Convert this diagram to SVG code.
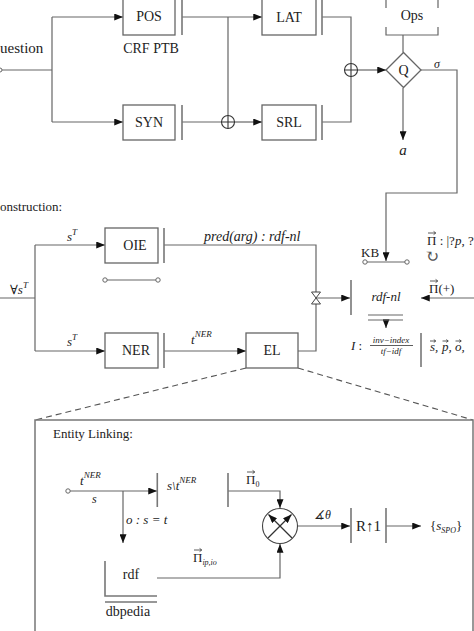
<svg xmlns="http://www.w3.org/2000/svg" xmlns:xlink="http://www.w3.org/1999/xlink" width="474" height="631" viewBox="0 0 474 631">
<style>
text{font-family:"Liberation Serif","DejaVu Serif",serif;fill:#222;font-size:14px}
.i{font-style:italic}
.m{text-anchor:middle}
.ln{fill:none;stroke:#666;stroke-width:1.2}
.bx{fill:#fff;stroke:#666;stroke-width:1.3}
.bar{stroke:#777;stroke-width:1.6;fill:none}
.a{marker-end:url(#ar)}
.dash{fill:none;stroke:#555;stroke-width:1.1;stroke-dasharray:6 4}
.sm{fill:#fff;stroke:#666;stroke-width:1}
.sup{font-size:9px}
.vec{fill:none;stroke:#333;stroke-width:0.8}
</style>
<defs>
<marker id="ar" viewBox="0 0 10 8" refX="10" refY="4" markerWidth="9" markerHeight="7" markerUnits="userSpaceOnUse" orient="auto"><path d="M0,0L10,4L0,8z" fill="#111"/></marker>
<path id="vec" class="vec" d="M0,0H7.5M5.6,-1.6L7.8,0L5.6,1.6"/>
<path id="vecs" class="vec" d="M0,0H5.5M3.8,-1.4L5.8,0L3.8,1.4"/>
</defs>
<g id="connectors">
<path class="ln" d="M2,70H52M52,17V122"/>
<path class="ln a" d="M52,17H123"/>
<path class="ln a" d="M52,122H123"/>
<path class="ln a" d="M182,17H262"/>
<path class="ln" d="M228,17V115.5M182,122H221.5"/>
<path class="ln a" d="M234.5,122H262"/>
<path class="ln" d="M322,17H351V63.5M322,122H351V76.5"/>
<path class="ln a" d="M357.5,70H386"/>
<path class="ln" d="M403,35V52.5"/>
<path class="ln a" d="M403,88V140"/>
<path class="ln a" d="M421,70H457V193H386V261"/>
<path class="ln" d="M0,298H35M35,245V351"/>
<path class="ln a" d="M35,245H105"/>
<path class="ln a" d="M35,351H105"/>
<path class="ln" d="M164,245H316V292"/>
<path class="ln a" d="M164,351H246"/>
<path class="ln" d="M298,351H316V304"/>
<path class="ln a" d="M316,298H350"/>
<path class="ln a" d="M474,298H421"/>
<path class="ln a" d="M386,320V328"/>
<path class="ln a" d="M70,491H157"/>
<path class="ln a" d="M123,491V543"/>
<path class="ln a" d="M228,491H280V508"/>
<path class="ln a" d="M298,526H350"/>
<path class="ln a" d="M386,526H421"/>
<path class="ln a" d="M157,578H280V544"/>
<path class="dash" d="M246,368L35,420"/>
<path class="dash" d="M298,368L473,420"/>
</g>
<g id="question">
<text x="0" y="53" style="font-size:15px">uestion</text>
<circle cx="0" cy="70" r="2" class="sm"/>
</g>
<g id="POS">
<rect class="bx" x="123" y="-5" width="52" height="40"/>
<path class="bar" d="M182,0V35"/>
<text class="m" x="149" y="21">POS</text>
<text class="m" x="151" y="53">CRF PTB</text>
</g>
<g id="SYN">
<rect class="bx" x="123" y="105" width="52" height="35"/>
<path class="bar" d="M182,105V140"/>
<text class="m" x="149" y="127">SYN</text>
</g>
<g id="oplus1">
<circle cx="228" cy="122" r="6.5" fill="none" stroke="#333" stroke-width="1.1"/>
<path d="M221.5,122H234.5M228,115.5V128.5" stroke="#333" stroke-width="1.1"/>
</g>
<g id="LAT">
<rect class="bx" x="262" y="-5" width="54" height="40"/>
<path class="bar" d="M322,0V35"/>
<text class="m" x="289" y="22">LAT</text>
</g>
<g id="SRL">
<rect class="bx" x="262" y="105" width="54" height="35"/>
<path class="bar" d="M322,105V140"/>
<text class="m" x="289" y="127">SRL</text>
</g>
<g id="oplus2">
<circle cx="351" cy="70" r="6.5" fill="none" stroke="#333" stroke-width="1.1"/>
<path d="M344.5,70H357.5M351,63.5V76.5" stroke="#333" stroke-width="1.1"/>
</g>
<g id="Ops">
<path class="ln" d="M386,0V8M386,27V35H438V27M438,8V0"/>
<text class="m" x="412" y="20">Ops</text>
</g>
<g id="Q">
<path class="bx" d="M386,70L403.5,52.5L421,70L403.5,87.5Z"/>
<text class="m" x="403.5" y="75">Q</text>
<text class="i" x="434" y="68" style="font-size:12px">σ</text>
<text class="i m" x="403" y="155" style="font-size:15px">a</text>
</g>
<g id="construction">
<text x="0" y="211" style="font-size:13px">onstruction:</text>
<text x="10" y="294" style="font-size:13px">∀<tspan class="i">s</tspan><tspan class="i sup" dy="-6">T</tspan></text>
<text x="67" y="241" class="i" style="font-size:13px">s<tspan class="sup" dy="-6">T</tspan></text>
<text x="67" y="346" class="i" style="font-size:13px">s<tspan class="sup" dy="-6">T</tspan></text>
</g>
<g id="OIE">
<rect class="bx" x="105" y="228" width="53" height="35"/>
<path class="bar" d="M164,228V263"/>
<text class="m" x="135" y="250">OIE</text>
</g>
<g id="switch1">
<path class="ln" d="M107,280H156"/>
<circle class="sm" cx="105" cy="280" r="2.2"/>
<circle class="sm" cx="158" cy="280" r="2.2"/>
</g>
<g id="NER">
<rect class="bx" x="105" y="333" width="53" height="35"/>
<path class="bar" d="M164,333V368"/>
<text class="m" x="136" y="355">NER</text>
<text x="191" y="344" class="i" style="font-size:13px">t<tspan class="sup" dy="-7">NER</tspan></text>
</g>
<text x="204" y="241" class="i" style="font-size:14px">pred(arg) : rdf-nl</text>
<g id="EL">
<rect class="bx" x="246" y="333" width="52" height="35"/>
<text class="m" x="272" y="355">EL</text>
</g>
<g id="valve">
<path d="M311.5,292H320.5L316,298ZM311.5,304H320.5L316,298Z" fill="#fff" stroke="#444" stroke-width="1"/>
</g>
<g id="KB">
<path class="ln" d="M367,262H405"/>
<circle class="sm" cx="365" cy="262" r="2.2"/>
<circle class="sm" cx="407" cy="262" r="2.2"/>
<text x="361" y="257" style="font-size:13px">KB</text>
<text x="427" y="245" style="font-size:13px">Π : |?<tspan class="i">p</tspan>, ?</text>
<use xlink:href="#vec" href="#vec" x="428" y="233"/>
<text x="425" y="262" style="font-size:17px;fill:#555">↻</text>
</g>
<g id="rdfnl">
<path class="bar" d="M351,280V315"/>
<text class="i m" x="386" y="301" style="font-size:13px">rdf-nl</text>
<text x="429" y="293" style="font-size:13px">Π(+)</text>
<use xlink:href="#vec" href="#vec" x="430" y="281"/>
<path class="ln" d="M368,315H403M368,320H403"/>
</g>
<g id="index">
<text x="351" y="350" class="i" style="font-size:13px">I<tspan font-style="normal"> :</tspan></text>
<text class="i m" x="391" y="343" style="font-size:9px">inv−index</text>
<path d="M370,345.5H413" stroke="#333" stroke-width="0.8"/>
<text class="i m" x="391" y="354" style="font-size:9px">tf−idf</text>
<path class="bar" d="M421,333V367"/>
<text x="430" y="351" class="i" style="font-size:13px">s,</text>
<text x="442" y="351" class="i" style="font-size:13px">p,</text>
<text x="455" y="351" class="i" style="font-size:13px">o,</text>
<use xlink:href="#vecs" href="#vecs" x="430" y="341"/>
<use xlink:href="#vecs" href="#vecs" x="442.5" y="341"/>
<use xlink:href="#vecs" href="#vecs" x="455.5" y="341"/>
</g>
<g id="EntityLinking">
<path fill="none" stroke="#777" stroke-width="1.5" d="M35,631V420H473V631"/>
<text x="53" y="438" style="font-size:13px">Entity Linking:</text>
</g>
<g id="input">
<circle class="sm" cx="68" cy="491" r="2.2"/>
<text x="80" y="485" class="i" style="font-size:13px">t<tspan class="sup" dy="-7">NER</tspan></text>
<text x="92" y="503" class="i" style="font-size:12px">s</text>
<text x="126" y="524" class="i" style="font-size:13px">o : s = t</text>
</g>
<g id="stner">
<path class="bar" d="M157.3,473V507M228,473V507"/>
<text x="167" y="490" class="i" style="font-size:13px">s\t<tspan class="sup" dy="-7">NER</tspan></text>
<text x="246" y="484" style="font-size:13px">Π<tspan style="font-size:8px" dy="3">0</tspan></text>
<use xlink:href="#vec" href="#vec" x="247" y="472"/>
</g>
<g id="mixer">
<circle cx="280" cy="526" r="17.5" fill="#fff" stroke="#444" stroke-width="1.1"/>
<path class="ln a" d="M268,538L291.5,514.5" style="stroke:#333"/>
<path class="ln a" d="M292,538L268.5,514.5" style="stroke:#333"/>
<text x="314" y="519" class="i" style="font-size:12px">∡θ</text>
</g>
<g id="R1">
<path class="bar" d="M351,508V543M386,508V543"/>
<text class="m" x="368.5" y="531" style="font-size:15px">R↑1</text>
<text x="430" y="530" style="font-size:13px">{<tspan class="i">s</tspan><tspan class="i" style="font-size:8px" dy="3">SPO</tspan><tspan dy="-3">}</tspan></text>
</g>
<g id="rdf">
<path class="bar" d="M105,561V596H157M105,602H157"/>
<text class="m" x="131" y="579">rdf</text>
<text class="m" x="128" y="616">dbpedia</text>
<text x="193" y="562" style="font-size:13px">Π<tspan class="i" style="font-size:8px" dy="3">ip,io</tspan></text>
<use xlink:href="#vec" href="#vec" x="194" y="550"/>
</g>
</svg>
